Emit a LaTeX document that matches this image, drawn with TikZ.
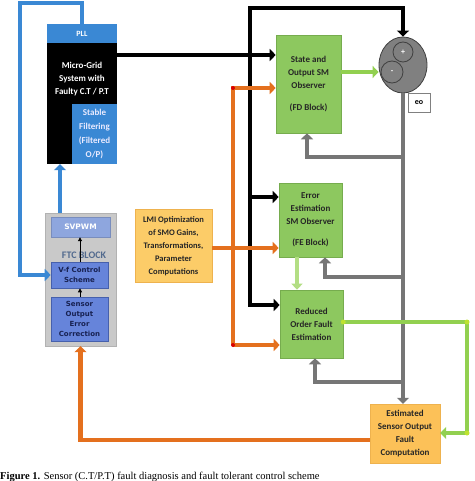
\documentclass[tikz,border=0pt]{standalone}
\usepackage{fontspec}
\setmainfont{Carlito}
\newfontfamily\vffont{DejaVu Sans}
\newfontfamily\capfont{Liberation Serif}
\usetikzlibrary{arrows.meta}
\usetikzlibrary{shapes.geometric}
\definecolor{pllblue}{RGB}{58,136,212}
\definecolor{orgline}{RGB}{228,112,30}
\definecolor{boxgreen}{RGB}{141,200,95}
\definecolor{boxgreenedge}{RGB}{118,172,78}
\definecolor{grnline}{RGB}{146,208,80}
\definecolor{greyline}{RGB}{118,118,118}
\definecolor{lmiyellow}{RGB}{252,204,104}
\definecolor{lmiedge}{RGB}{238,178,78}
\definecolor{ftcgrey}{RGB}{201,201,201}
\definecolor{svblue}{RGB}{142,166,222}
\definecolor{vfblue}{RGB}{102,132,218}
\definecolor{vfedge}{RGB}{70,96,172}
\definecolor{vftext}{RGB}{24,34,82}
\definecolor{ftctext}{RGB}{82,106,142}
\tikzset{
 greenbox/.style={draw=boxgreenedge, fill=boxgreen, line width=.6pt, inner sep=0, align=center,
   font=\bfseries\fontsize{9}{13}\selectfont, text=black!85},
 innerbox/.style={draw=vfedge, fill=vfblue, line width=.6pt, inner sep=0, align=center,
   font=\vffont\bfseries\fontsize{7}{10}\selectfont, text=vftext},
 blkarrow/.style={line width=4.5pt, draw=black, -{Triangle[width=12pt,length=6pt]}},
 orgarrow/.style={line width=4.5pt, draw=orgline, -{Triangle[width=12pt,length=6pt]}},
 bluearrow/.style={line width=4.5pt, draw=pllblue, -{Triangle[width=12pt,length=6pt]}},
 greyarrow/.style={line width=4.5pt, draw=greyline, -{Triangle[width=12pt,length=6pt]}},
 grnarrow/.style={line width=4.5pt, draw=grnline, -{Triangle[width=12pt,length=6pt]}},
}
\begin{document}
\begin{tikzpicture}[x=1pt,y=-1pt]
\useasboundingbox (0,0) rectangle (474,481);
% plant
\node[fill=black, minimum width=70, minimum height=140, inner sep=0] (sys) at (82,94) {};
\node[fill=pllblue, minimum width=70, minimum height=19, inner sep=0, text=white,
  font=\bfseries\fontsize{8}{10}\selectfont] (pll) at (82,33.5) {PLL};
\node[fill=pllblue, minimum width=45, minimum height=60, inner sep=0, text=white!92!blue, align=center,
  font=\bfseries\fontsize{9}{13.7}\selectfont] (filt) at (94.5,134) {Stable\\Filtering\\(Filtered\\O/P)};
\node[text=white, align=center, font=\bfseries\fontsize{9}{13}\selectfont] (systxt) at (82,79)
  {Micro-Grid\\System with\\Faulty C.T / P.T};
% FTC block
\node[draw=black!30, fill=ftcgrey, minimum width=71, minimum height=133, inner sep=0] (ftc) at (80.5,279.5) {};
\node[draw=svblue!85!black, fill=svblue, minimum width=59, minimum height=20, inner sep=0, text=white,
  font=\vffont\bfseries\fontsize{7.5}{9}\selectfont] (svpwm) at (80.5,227) {SVPWM};
\node[text=ftctext, font=\bfseries\fontsize{10}{12}\selectfont] (ftctxt) at (84,255) {FTC BLOCK};
\node[innerbox, minimum width=57, minimum height=26] (vf) at (79.5,275) {V-f Control\\Scheme};
\node[innerbox, minimum width=57, minimum height=44] (sens) at (79.5,319) {Sensor\\Output\\Error\\Correction};
% LMI
\node[draw=lmiedge, fill=lmiyellow, minimum width=77, minimum height=73, inner sep=0, align=center,
  font=\bfseries\fontsize{8.5}{13}\selectfont, text=black!85] (lmi) at (173.5,246)
  {LMI Optimization\\of SMO Gains,\\Transformations,\\Parameter\\Computations};
% observers
\node[greenbox, minimum width=65, minimum height=98] (fd) at (308.5,84)
  {State and\\Output SM\\Observer\\[9pt](FD Block)};
\node[greenbox, minimum width=63, minimum height=74] (fe) at (310.5,220)
  {Error\\Estimation\\SM Observer\\[8pt](FE Block)};
\node[greenbox, minimum width=63, minimum height=68] (ro) at (311.5,324)
  {Reduced\\Order Fault\\Estimation};
\node[draw=lmiedge, fill=lmiyellow!85!orange, minimum width=70, minimum height=59, inner sep=0, align=center,
  font=\bfseries\fontsize{9}{13}\selectfont, text=black!85] (est) at (405,433.5)
  {Estimated\\Sensor Output\\Fault\\Computation};
% summing junction
\node[ellipse, draw=black!75, fill=black!50, line width=.8pt, minimum width=48, minimum height=56] (sum) at (403,65) {};
\node[circle, draw=black!75, fill=black!50, line width=.8pt, minimum size=20, inner sep=0, text=white,
  font=\bfseries\fontsize{8}{8}\selectfont] (plus) at (403,52) {+};
\node[circle, draw=black!75, fill=black!50, line width=.8pt, minimum size=22, inner sep=0, text=white,
  font=\bfseries\fontsize{8}{8}\selectfont] (minus) at (392,72) {-};
\node[draw=black!50, fill=white, minimum width=22, minimum height=19, inner sep=0,
  font=\bfseries\fontsize{8}{8}\selectfont] (eo) at (419,102.5) {eo};
% blue loop
\coordinate (bl) at (20,3);
\draw[bluearrow] (pll.north) |- (bl) |- (vf.west);
\draw[bluearrow] (ftc.north -| 60,0) -- (sys.south -| 60,0);
\draw[-{Triangle[width=4pt,length=4pt]}, line width=1pt] (sens.north -| 80,0) -- (vf.south -| 80,0);
\draw[-{Triangle[width=4pt,length=4pt]}, line width=1pt] (vf.north -| 80,0) -- (svpwm.south -| 80,0);
% black bus
\coordinate (jb) at (250,55);
\draw[blkarrow] (sys.east |- jb) -- (fd.west |- jb);
\draw[blkarrow] (jb) |- (sum.north |- 0,8) -- (sum.north);
\draw[blkarrow] (jb |- 0,197) -- (fe.west |- 0,197);
\draw[blkarrow] (jb) |- (ro.west |- 0,305);
% orange lines
\coordinate (ot) at (233,88);
\coordinate (ob) at (233,345);
\draw[orgarrow] (ob) |- (fd.west |- ot);
\draw[orgarrow] (ob) -- (ro.west |- ob);
\draw[orgarrow] (lmi.east |- 0,248) -- (fe.west |- 0,248);
\draw[orgarrow] (est.west |- 0,440) -| (ftc.south);
\foreach \p in {ot, ob} \fill[red!85!black] (\p) circle (2pt);
% grey feedback
\draw[greyarrow] (sum.south) -- (sum.south |- est.north);
\draw[greyarrow] (sum.south |- 0,157) -| (fd.south -| 307,0);
\draw[greyarrow] (sum.south |- 0,277) -| (fe.south -| 325,0);
\draw[greyarrow] (sum.south |- 0,382) -| (ro.south -| 315,0);
% green lines
\draw[grnarrow] (fd.east |- 0,72) -- (sum.west |- 0,72);
\draw[line width=4pt, draw=grnline!70!white, -{Triangle[width=11pt,length=6pt]}] (fe.south -| 297,0) -- (ro.north -| 297,0);
\coordinate (gr) at (467,322);
\draw[grnarrow] (ro.east |- gr) -- (gr) |- (est.east |- 0,433);
\foreach \p in {(ro.east |- gr), (gr), (467,433)} \fill[grnline!60!yellow] \p circle (2.5pt);
% caption
\node[anchor=base west, inner sep=0, font=\capfont\fontsize{10.5}{12}\selectfont] (cap) at (0,479)
  {\textbf{Figure 1.} Sensor (C.T/P.T) fault diagnosis and fault tolerant control scheme};
\end{tikzpicture}
\end{document}
